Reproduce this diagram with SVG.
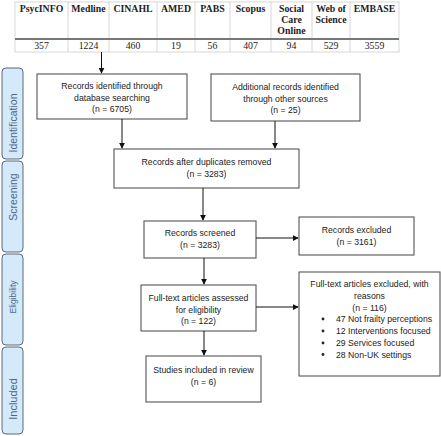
<svg xmlns="http://www.w3.org/2000/svg" width="441" height="436" viewBox="0 0 441 436">
<style>
.bg{fill:#ffffff}
.box{fill:#ffffff;stroke:#555555;stroke-width:1.1}
.t{font-family:"Liberation Sans",Arial,sans-serif;font-size:8.7px;fill:#222222;text-anchor:middle}
.tl{font-family:"Liberation Sans",Arial,sans-serif;font-size:8.7px;fill:#222222}
.th{font-family:"Liberation Serif","Times New Roman",serif;font-size:9.8px;font-weight:bold;fill:#222222;text-anchor:middle}
.tn{font-family:"Liberation Serif","Times New Roman",serif;font-size:9.8px;fill:#222222;text-anchor:middle}
.grid{stroke:#cccccc;stroke-width:0.8;fill:none}
.side{fill:#d4e9f9;stroke:#5a6a7a;stroke-width:1}
.st{font-family:"Liberation Sans",Arial,sans-serif;fill:#4a6690;text-anchor:middle}
.conn{stroke:#111111;stroke-width:1;fill:none;marker-end:url(#arr)}
</style>
<defs>
<marker id="arr" viewBox="0 0 8 8" refX="7" refY="4" markerWidth="6" markerHeight="6" orient="auto" markerUnits="userSpaceOnUse">
<path d="M0,0 L8,4 L0,8 z" fill="#111111"/>
</marker>
</defs>
<rect class="bg" x="0" y="0" width="441" height="436"/>

<g id="table">
<rect class="grid" x="15" y="2" width="384" height="50"/>
<line class="grid" x1="68" y1="2" x2="68" y2="52"/>
<line class="grid" x1="109" y1="2" x2="109" y2="52"/>
<line class="grid" x1="157" y1="2" x2="157" y2="52"/>
<line class="grid" x1="195" y1="2" x2="195" y2="52"/>
<line class="grid" x1="230" y1="2" x2="230" y2="52"/>
<line class="grid" x1="271" y1="2" x2="271" y2="52"/>
<line class="grid" x1="312" y1="2" x2="312" y2="52"/>
<line class="grid" x1="350" y1="2" x2="350" y2="52"/>
<line x1="15" y1="39" x2="399" y2="39" stroke="#777777" stroke-width="2"/>
<text class="th" x="41.5" y="12">PsycINFO</text>
<text class="th" x="88.5" y="12">Medline</text>
<text class="th" x="133" y="12">CINAHL</text>
<text class="th" x="176" y="12">AMED</text>
<text class="th" x="212.5" y="12">PABS</text>
<text class="th" x="250.5" y="12">Scopus</text>
<text class="th" x="291.5" y="12">Social</text>
<text class="th" x="291.5" y="23">Care</text>
<text class="th" x="291.5" y="34">Online</text>
<text class="th" x="331" y="12">Web of</text>
<text class="th" x="331" y="23">Science</text>
<text class="th" x="374.5" y="12">EMBASE</text>
<text class="tn" x="41.5" y="49">357</text>
<text class="tn" x="88.5" y="49">1224</text>
<text class="tn" x="133" y="49">460</text>
<text class="tn" x="176" y="49">19</text>
<text class="tn" x="212.5" y="49">56</text>
<text class="tn" x="250.5" y="49">407</text>
<text class="tn" x="291.5" y="49">94</text>
<text class="tn" x="331" y="49">529</text>
<text class="tn" x="374.5" y="49">3559</text>
</g>

<g id="stage-identification">
<rect class="side" x="2" y="68" width="21" height="91" rx="4"/>
<text class="st" font-size="10.5" transform="translate(17,123) rotate(-90)">Identification</text>
</g>
<g id="stage-screening">
<rect class="side" x="2" y="161" width="21" height="91" rx="4"/>
<text class="st" font-size="10.5" transform="translate(17,197) rotate(-90)">Screening</text>
</g>
<g id="stage-eligibility">
<rect class="side" x="2" y="254" width="21" height="91" rx="4"/>
<text class="st" font-size="8.5" transform="translate(16,297) rotate(-90)">Eligibility</text>
</g>
<g id="stage-included">
<rect class="side" x="2" y="347" width="21" height="87" rx="4"/>
<text class="st" font-size="11" transform="translate(17,399) rotate(-90)">Included</text>
</g>

<g id="n-db">
<rect class="box" x="37" y="74" width="150" height="45"/>
<text class="t" x="112" y="89">Records identified through</text>
<text class="t" x="112" y="100.5">database searching</text>
<text class="t" x="112" y="112">(n = 6705)</text>
</g>
<g id="n-other">
<rect class="box" x="211" y="74" width="149" height="47"/>
<text class="t" x="285.5" y="90">Additional records identified</text>
<text class="t" x="285.5" y="101.5">through other sources</text>
<text class="t" x="285.5" y="113">(n = 25)</text>
</g>
<g id="n-dedup">
<rect class="box" x="114" y="149" width="185" height="39"/>
<text class="t" x="206.5" y="165">Records after duplicates removed</text>
<text class="t" x="206.5" y="177">(n = 3283)</text>
</g>
<g id="n-screened">
<rect class="box" x="144" y="221" width="112" height="37"/>
<text class="t" x="200" y="236">Records screened</text>
<text class="t" x="200" y="247.5">(n = 3283)</text>
</g>
<g id="n-excluded">
<rect class="box" x="299" y="217" width="115" height="38"/>
<text class="t" x="356.5" y="233">Records excluded</text>
<text class="t" x="356.5" y="245">(n = 3161)</text>
</g>
<g id="n-fulltext">
<rect class="box" x="141" y="285" width="115" height="46"/>
<text class="t" x="198.5" y="301">Full-text articles assessed</text>
<text class="t" x="198.5" y="312.5">for eligibility</text>
<text class="t" x="198.5" y="324">(n = 122)</text>
</g>
<g id="n-ftexcluded">
<rect class="box" x="299" y="272" width="141" height="104"/>
<text class="t" x="369.5" y="287">Full-text articles excluded, with</text>
<text class="t" x="369.5" y="299">reasons</text>
<text class="t" x="369.5" y="310.5">(n = 116)</text>
<circle cx="323" cy="319" r="1.4" fill="#222222"/>
<circle cx="323" cy="331" r="1.4" fill="#222222"/>
<circle cx="323" cy="343" r="1.4" fill="#222222"/>
<circle cx="323" cy="354.5" r="1.4" fill="#222222"/>
<text class="tl" x="336" y="322">47 Not frailty perceptions</text>
<text class="tl" x="336" y="334">12 Interventions focused</text>
<text class="tl" x="336" y="346">29 Services focused</text>
<text class="tl" x="336" y="357.5">28 Non-UK settings</text>
</g>
<g id="n-included">
<rect class="box" x="146" y="356" width="115" height="46"/>
<text class="t" x="203.5" y="373">Studies included in review</text>
<text class="t" x="203.5" y="384.5">(n = 6)</text>
</g>

<g id="connectors">
<line class="conn" x1="101.5" y1="52" x2="101.5" y2="73"/>
<line class="conn" x1="122" y1="119" x2="122" y2="148"/>
<line class="conn" x1="275" y1="121" x2="275" y2="148"/>
<line class="conn" x1="203" y1="188" x2="203" y2="220"/>
<line class="conn" x1="256" y1="238" x2="298" y2="238"/>
<line class="conn" x1="204" y1="258" x2="204" y2="284"/>
<line class="conn" x1="256" y1="307" x2="298" y2="307"/>
<line class="conn" x1="204" y1="331" x2="204" y2="355"/>
</g>
</svg>
